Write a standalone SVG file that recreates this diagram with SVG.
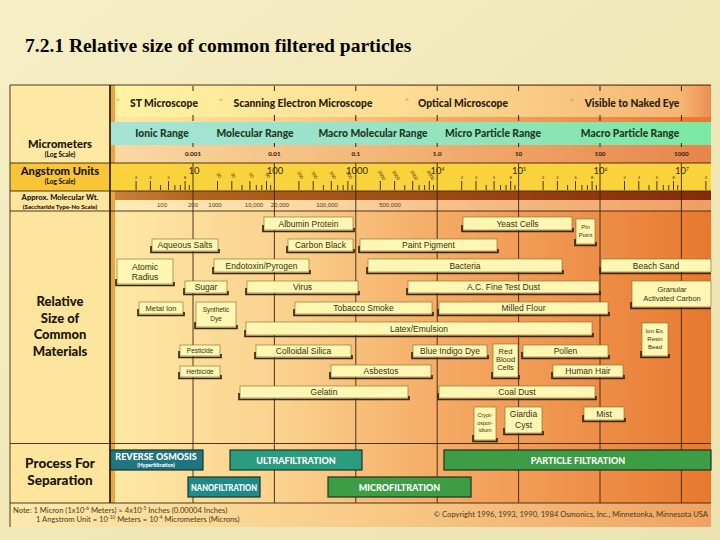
<svg xmlns="http://www.w3.org/2000/svg" width="720" height="540" viewBox="0 0 720 540">
<defs>
<linearGradient id="page" x1="0" y1="0" x2="1" y2="1"><stop offset="0" stop-color="#f6efc6"/><stop offset="0.5" stop-color="#f1e8b8"/><stop offset="1" stop-color="#ece2b2"/></linearGradient>
<linearGradient id="chart" gradientUnits="userSpaceOnUse" x1="110" y1="0" x2="711" y2="0"><stop offset="0" stop-color="#fde9a5"/><stop offset="0.3" stop-color="#fad08c"/><stop offset="0.57" stop-color="#f4a862"/><stop offset="0.8" stop-color="#ee8f48"/><stop offset="1" stop-color="#e8782e"/></linearGradient>
<linearGradient id="micro" gradientUnits="userSpaceOnUse" x1="115" y1="0" x2="711" y2="0"><stop offset="0" stop-color="#fff3a2"/><stop offset="0.5" stop-color="#fcdc92"/><stop offset="0.95" stop-color="#f5b674"/><stop offset="1" stop-color="#ec8e52"/></linearGradient>
<linearGradient id="teal" gradientUnits="userSpaceOnUse" x1="110" y1="0" x2="711" y2="0"><stop offset="0" stop-color="#a6e4d6"/><stop offset="0.45" stop-color="#98e2c6"/><stop offset="1" stop-color="#7ce8a2"/></linearGradient>
<linearGradient id="nums" gradientUnits="userSpaceOnUse" x1="115" y1="0" x2="711" y2="0"><stop offset="0" stop-color="#f9d9a2"/><stop offset="0.5" stop-color="#f2b272"/><stop offset="1" stop-color="#e8844a"/></linearGradient>
<linearGradient id="mol" gradientUnits="userSpaceOnUse" x1="115" y1="0" x2="711" y2="0"><stop offset="0" stop-color="#c8803a"/><stop offset="0.15" stop-color="#b0621e"/><stop offset="0.6" stop-color="#984614"/><stop offset="1" stop-color="#862a0c"/></linearGradient>
<linearGradient id="note" gradientUnits="userSpaceOnUse" x1="10" y1="0" x2="711" y2="0"><stop offset="0" stop-color="#fde9aa"/><stop offset="0.5" stop-color="#f8cc88"/><stop offset="1" stop-color="#f0a262"/></linearGradient>
<style>
.lbl{font-family:Lato,"Open Sans","DejaVu Sans",sans-serif;font-weight:900;fill:#1c1609;text-anchor:middle}
.mic{font-family:Lato,"Open Sans",sans-serif;font-weight:900;font-size:10.3px;fill:#2a200e;text-anchor:middle}
.rng{font-family:Lato,"Open Sans",sans-serif;font-weight:900;font-size:10.3px;fill:#1d3a22;text-anchor:middle}
.caret{font-family:"Liberation Sans",sans-serif;font-size:7px;fill:#c07a3a;text-anchor:middle}
.um{font-family:Lato,sans-serif;font-weight:900;font-size:6.3px;fill:#3a2a16;text-anchor:middle}
.ang{font-family:Lato,sans-serif;font-size:9.5px;fill:#3a2a12;text-anchor:middle}
.tk{font-family:Lato,sans-serif;font-size:4.5px;fill:#4a3414;text-anchor:middle}
.mw{font-family:"Liberation Sans",sans-serif;font-size:6px;fill:#5a3818;text-anchor:middle}
.mat rect{fill:#fdf7b3;stroke:#7a6a30;stroke-width:.6}
.mat path{fill:none;stroke:#3a2810;stroke-width:1.7}
.mat text{font-family:"Liberation Sans",Arial,sans-serif;font-size:8.5px;fill:#3a3012;text-anchor:middle}
.s75 text{font-size:7.5px}
.s65 text{font-size:6.5px}
.s6 text{font-size:6px}
.s55 text{font-size:5.5px}
.proc rect{stroke:#1d3320;stroke-width:1.2}
.proc text{font-family:Lato,"Open Sans",sans-serif;font-weight:900;font-size:9px;fill:#ffffff;text-anchor:middle}
.grid line{stroke:#3a2410;stroke-width:.9}
.note{font-family:Lato,"Open Sans",sans-serif;font-size:7.6px;fill:#4a3a20}
</style>
</defs>

<rect x="0" y="0" width="720" height="540" fill="url(#page)"/>
<text x="25" y="52" font-family="'Liberation Serif','Times New Roman',serif" font-weight="700" font-size="19.5" fill="#000">7.2.1 Relative size of common filtered particles</text>

<!-- backgrounds -->
<g id="backgrounds">
<rect x="10" y="85" width="100" height="418" fill="#fde59e"/>
<rect x="10" y="85" width="100" height="78" fill="#fde9a4"/>
<rect x="10" y="163" width="100" height="28" fill="#f7c536"/>
<rect x="110" y="85" width="601" height="418" fill="url(#chart)"/>
<rect x="110" y="85" width="5" height="418" fill="#e9a444"/>
<rect x="115" y="86" width="596" height="31" fill="url(#micro)"/>
<rect x="110" y="122" width="601" height="23" fill="url(#teal)"/>
<rect x="115" y="145" width="596" height="18" fill="url(#nums)"/>
<rect x="110" y="163" width="601" height="28" fill="#f9d23c"/>
<rect x="115" y="191" width="596" height="9" fill="url(#mol)"/>
<rect x="115" y="200" width="596" height="11" fill="#fff6e0" opacity="0.3"/>
<rect x="10" y="503" width="701" height="24" fill="url(#note)"/>
</g>

<!-- grid / scale -->
<g id="grid" class="grid">
<line x1="10" y1="85" x2="711" y2="85"/>
<line x1="10" y1="163" x2="711" y2="163"/>
<line x1="10" y1="191" x2="711" y2="191"/>
<line x1="10" y1="211" x2="711" y2="211"/>
<line x1="10" y1="443.5" x2="711" y2="443.5"/>
<line x1="10" y1="503" x2="711" y2="503"/>
<line x1="10" y1="85" x2="10" y2="527"/>
<line x1="110" y1="85" x2="110" y2="503" style="stroke-width:1.8"/>
<line x1="193" y1="163" x2="193" y2="503"/>
<line x1="274.4" y1="163" x2="274.4" y2="503"/>
<line x1="355.8" y1="163" x2="355.8" y2="503"/>
<line x1="437.2" y1="163" x2="437.2" y2="503"/>
<line x1="518.6" y1="163" x2="518.6" y2="503"/>
<line x1="600" y1="163" x2="600" y2="503"/>
<line x1="681.4" y1="163" x2="681.4" y2="503"/>
<path d="M193 86V91M274.4 86V91M355.8 86V91M437.2 86V91M518.6 86V91M600 86V91M681.4 86V91M193 115V121M274.4 115V121M355.8 115V121M437.2 115V121M518.6 115V121M600 115V121M681.4 115V121M193 143V147M274.4 143V147M355.8 143V147M437.2 143V147M518.6 143V147M600 143V147M681.4 143V147" stroke="#3a2410" stroke-width="1" fill="none"/>
<path d="M136.1 181V190M150.4 181V190M168.5 181V190M185.1 181V190M217.5 181V190M231.8 181V190M249.9 181V190M266.5 181V190M298.9 181V190M313.2 181V190M331.3 181V190M347.9 181V190M380.3 181V190M394.6 181V190M412.7 181V190M429.3 181V190M461.7 181V190M476 181V190M494.1 181V190M510.7 181V190M543.1 181V190M557.4 181V190M575.5 181V190M592.1 181V190M624.5 181V190M638.8 181V190M656.9 181V190M673.5 181V190M705.9 181V190" stroke="#3a2410" stroke-width="0.9" fill="none"/>
<path d="M160.6 185V190M174.9 185V190M180.4 185V190M189.3 185V190M242 185V190M256.3 185V190M261.8 185V190M270.7 185V190M323.4 185V190M337.7 185V190M343.2 185V190M352.1 185V190M404.8 185V190M419.1 185V190M424.6 185V190M433.5 185V190M486.2 185V190M500.5 185V190M506 185V190M514.9 185V190M567.6 185V190M581.9 185V190M587.4 185V190M596.3 185V190M649 185V190M663.3 185V190M668.8 185V190M677.7 185V190" stroke="#3a2410" stroke-width="0.9" fill="none"/>
</g>

<!-- left labels -->
<g id="labels">
<text class="lbl" x="60" y="148" font-size="11.2">Micrometers</text>
<text class="lbl" x="60" y="157" font-size="6.5">(Log Scale)</text>
<text class="lbl" x="60" y="175" font-size="11.2">Angstrom Units</text>
<text class="lbl" x="60" y="184" font-size="6.5">(Log Scale)</text>
<text class="lbl" x="60" y="200" font-size="7.6">Approx. Molecular Wt.</text>
<text class="lbl" x="60" y="208.5" font-size="6.2">(Saccharide Type-No Scale)</text>
<text class="lbl" x="60" y="306" font-size="13">Relative</text>
<text class="lbl" x="60" y="322.5" font-size="13">Size of</text>
<text class="lbl" x="60" y="339" font-size="13">Common</text>
<text class="lbl" x="60" y="355.5" font-size="13">Materials</text>
<text class="lbl" x="60" y="468" font-size="13.5">Process For</text>
<text class="lbl" x="60" y="485" font-size="13.5">Separation</text>
</g>

<!-- microscope row -->
<g id="microscopes">
<text class="caret" x="118" y="103">^</text>
<text class="caret" x="221" y="103">^</text>
<text class="caret" x="407" y="103">^</text>
<text class="caret" x="572" y="103">^</text>
<text class="mic" x="164" y="107">ST Microscope</text>
<text class="mic" x="303" y="107">Scanning Electron Microscope</text>
<text class="mic" x="463" y="107">Optical Microscope</text>
<text class="mic" x="632" y="107">Visible to Naked Eye</text>
</g>

<g id="ranges">
<text class="rng" x="162" y="136.5">Ionic Range</text>
<text class="rng" x="255" y="136.5">Molecular Range</text>
<text class="rng" x="373" y="136.5">Macro Molecular Range</text>
<text class="rng" x="493" y="136.5">Micro Particle Range</text>
<text class="rng" x="630" y="136.5">Macro Particle Range</text>
</g>

<g id="micrometers">
<text class="um" x="193" y="156">0.001</text>
<text class="um" x="274.4" y="156">0.01</text>
<text class="um" x="355.8" y="156">0.1</text>
<text class="um" x="437.2" y="156">1.0</text>
<text class="um" x="518.6" y="156">10</text>
<text class="um" x="600" y="156">100</text>
<text class="um" x="681.4" y="156">1000</text>
</g>

<g id="angstrom">
<text class="ang" x="194" y="173.5">10</text>
<text class="ang" x="275" y="173.5">100</text>
<text class="ang" x="357" y="173.5">1000</text>
<text class="ang" x="437.5" y="173.5">10<tspan font-size="5" dy="-3">4</tspan></text>
<text class="ang" x="519" y="173.5">10<tspan font-size="5" dy="-3">5</tspan></text>
<text class="ang" x="600.5" y="173.5">10<tspan font-size="5" dy="-3">6</tspan></text>
<text class="ang" x="682" y="173.5">10<tspan font-size="5" dy="-3">7</tspan></text>
<text class="tk" x="136.1" y="179">2</text><text class="tk" x="150.4" y="179">3</text><text class="tk" x="168.5" y="179">5</text><text class="tk" x="185.1" y="179">8</text>
<text class="tk" transform="translate(217.5 176) rotate(60)">20</text><text class="tk" transform="translate(231.8 176) rotate(60)">30</text><text class="tk" transform="translate(249.9 176) rotate(60)">50</text><text class="tk" transform="translate(266.5 176) rotate(60)">80</text>
<text class="tk" transform="translate(298.9 176) rotate(60)">200</text><text class="tk" transform="translate(313.2 176) rotate(60)">300</text><text class="tk" transform="translate(331.3 176) rotate(60)">500</text><text class="tk" transform="translate(347.9 176) rotate(60)">800</text>
<text class="tk" transform="translate(380.3 176) rotate(60)">2000</text><text class="tk" transform="translate(394.6 176) rotate(60)">3000</text><text class="tk" transform="translate(412.7 176) rotate(60)">5000</text><text class="tk" transform="translate(429.3 176) rotate(60)">8000</text>
<text class="tk" x="461.7" y="179">2</text><text class="tk" x="476" y="179">3</text><text class="tk" x="494.1" y="179">5</text><text class="tk" x="510.7" y="179">8</text>
<text class="tk" x="543.1" y="179">2</text><text class="tk" x="557.4" y="179">3</text><text class="tk" x="575.5" y="179">5</text><text class="tk" x="592.1" y="179">8</text>
<text class="tk" x="624.5" y="179">2</text><text class="tk" x="638.8" y="179">3</text><text class="tk" x="656.9" y="179">5</text><text class="tk" x="673.5" y="179">8</text>
<text class="tk" x="705.9" y="179">2</text>
</g>

<g id="molwt">
<text class="mw" x="162" y="207">100</text>
<text class="mw" x="193" y="207">200</text>
<text class="mw" x="215" y="207">1000</text>
<text class="mw" x="254" y="207">10,000</text>
<text class="mw" x="280" y="207">20,000</text>
<text class="mw" x="327" y="207">100,000</text>
<text class="mw" x="390" y="207">500,000</text>
</g>

<!-- materials -->
<g id="albumin" class="mat"><rect x="264" y="217" width="89" height="13"/><path d="M263 225V231.5H354V228"/><text x="308.5" y="226.5">Albumin Protein</text></g>
<g id="yeast" class="mat"><rect x="463" y="217" width="109" height="13"/><path d="M462 225V231.5H573V228"/><text x="517.5" y="226.5">Yeast Cells</text></g>
<g id="pinpoint" class="mat s6"><rect x="576" y="219" width="19" height="25"/><path d="M575 239V245.5H596V242"/><text x="585.5" y="229">Pin</text><text x="585.5" y="236.5">Point</text></g>
<g id="aqueous" class="mat"><rect x="152" y="239" width="66" height="12"/><path d="M151 246V252.5H219V249"/><text x="185" y="248">Aqueous Salts</text></g>
<g id="carbonblack" class="mat"><rect x="288" y="239" width="65" height="12"/><path d="M287 246V252.5H354V249"/><text x="320.5" y="248">Carbon Black</text></g>
<g id="paint" class="mat"><rect x="360" y="239" width="137" height="12"/><path d="M359 246V252.5H498V249"/><text x="428.5" y="248">Paint Pigment</text></g>
<g id="atomic" class="mat"><rect x="117" y="259" width="56" height="25"/><path d="M116 279V285.5H174V282"/><text x="145" y="270">Atomic</text><text x="145" y="280">Radius</text></g>
<g id="endotoxin" class="mat"><rect x="214" y="259" width="95" height="13"/><path d="M213 267V273.5H310V270"/><text x="261.5" y="268.5">Endotoxin/Pyrogen</text></g>
<g id="bacteria" class="mat"><rect x="368" y="259" width="194" height="13"/><path d="M367 267V273.5H563V270"/><text x="465" y="268.5">Bacteria</text></g>
<g id="beachsand" class="mat"><rect x="601" y="259" width="110" height="13"/><path d="M600 267V273.5H711"/><text x="656" y="268.5">Beach Sand</text></g>
<g id="sugar" class="mat"><rect x="185" y="281" width="42" height="12"/><path d="M184 288V294.5H228V291"/><text x="206" y="290">Sugar</text></g>
<g id="virus" class="mat"><rect x="247" y="281" width="111" height="12"/><path d="M246 288V294.5H359V291"/><text x="302.5" y="290">Virus</text></g>
<g id="acdust" class="mat"><rect x="408" y="281" width="191" height="12"/><path d="M407 288V294.5H600V291"/><text x="503.5" y="290">A.C. Fine Test Dust</text></g>
<g id="gac" class="mat s75"><rect x="632" y="281" width="79" height="26"/><path d="M631 302V308.5H711"/><text x="672" y="291.5">Granular</text><text x="672" y="300.5">Activated Carbon</text></g>
<g id="metalion" class="mat s75"><rect x="139" y="302" width="44" height="12"/><path d="M138 309V315.5H184V312"/><text x="161" y="311">Metal Ion</text></g>
<g id="synthdye" class="mat s65"><rect x="196" y="302" width="40" height="25"/><path d="M195 322V328.5H237V325"/><text x="216" y="311.5">Synthetic</text><text x="216" y="320.5">Dye</text></g>
<g id="tobacco" class="mat"><rect x="295" y="302" width="137" height="12"/><path d="M294 309V315.5H433V312"/><text x="363.5" y="311">Tobacco Smoke</text></g>
<g id="milledflour" class="mat"><rect x="439" y="302" width="169" height="12"/><path d="M438 309V315.5H609V312"/><text x="523.5" y="311">Milled Flour</text></g>
<g id="latex" class="mat"><rect x="246" y="322" width="346" height="13"/><path d="M245 330V336.5H593V333"/><text x="419" y="331.5">Latex/Emulsion</text></g>
<g id="ionex" class="mat s6"><rect x="642" y="323" width="26" height="33"/><path d="M641 351V357.5H669V354"/><text x="655" y="333">Ion Ex.</text><text x="655" y="341">Resin</text><text x="655" y="348.5">Bead</text></g>
<g id="pesticide" class="mat s65"><rect x="180" y="345" width="40" height="11"/><path d="M179 351V357.5H221V354"/><text x="200" y="352.8">Pesticide</text></g>
<g id="colloidal" class="mat"><rect x="256" y="345" width="95" height="12"/><path d="M255 352V358.5H352V355"/><text x="303.5" y="354">Colloidal Silica</text></g>
<g id="bluedye" class="mat"><rect x="413" y="345" width="74" height="12"/><path d="M412 352V358.5H488V355"/><text x="450" y="354">Blue Indigo Dye</text></g>
<g id="rbc" class="mat s75"><rect x="493" y="344" width="25" height="33"/><path d="M492 372V378.5H519V375"/><text x="505.5" y="354">Red</text><text x="505.5" y="362">Blood</text><text x="505.5" y="370">Cells</text></g>
<g id="pollen" class="mat"><rect x="523" y="345" width="85" height="12"/><path d="M522 352V358.5H609V355"/><text x="565.5" y="354">Pollen</text></g>
<g id="herbicide" class="mat s65"><rect x="180" y="366" width="40" height="11"/><path d="M179 372V378.5H221V375"/><text x="200" y="374">Herbicide</text></g>
<g id="asbestos" class="mat"><rect x="331" y="365" width="100" height="12"/><path d="M330 372V378.5H432V375"/><text x="381" y="374">Asbestos</text></g>
<g id="humanhair" class="mat"><rect x="553" y="365" width="70" height="12"/><path d="M552 372V378.5H624V375"/><text x="588" y="374">Human Hair</text></g>
<g id="gelatin" class="mat"><rect x="240" y="386" width="168" height="12"/><path d="M239 393V399.5H409V396"/><text x="324" y="395">Gelatin</text></g>
<g id="coaldust" class="mat"><rect x="439" y="386" width="156" height="12"/><path d="M438 393V399.5H596V396"/><text x="517" y="395">Coal Dust</text></g>
<g id="crypto" class="mat s55"><rect x="474" y="407" width="22" height="33"/><path d="M473 435V441.5H497V438"/><text x="485" y="417">Crypt-</text><text x="485" y="424.5">ospor-</text><text x="485" y="432">idium</text></g>
<g id="giardia" class="mat"><rect x="505" y="407" width="37" height="26"/><path d="M504 428V434.5H543V431"/><text x="523.5" y="417">Giardia</text><text x="523.5" y="427.5">Cyst</text></g>
<g id="mist" class="mat"><rect x="584" y="407" width="40" height="13"/><path d="M583 415V421.5H625V418"/><text x="604" y="416.5">Mist</text></g>

<!-- processes -->
<g id="reverseosmosis" class="proc"><rect x="110.5" y="450" width="92.5" height="20" fill="#1f7580"/><text x="156" y="459.5" font-size="8.5">REVERSE OSMOSIS</text><text x="156" y="467" style="font-size:5.2px">(Hyperfiltration)</text></g>
<g id="ultrafiltration" class="proc"><rect x="230" y="450" width="132" height="20" fill="#2a9d80"/><text x="296" y="463.5">ULTRAFILTRATION</text></g>
<g id="particlefiltration" class="proc"><rect x="444" y="450" width="267" height="20" fill="#3d9d45"/><text x="578" y="463.5">PARTICLE FILTRATION</text></g>
<g id="nanofiltration" class="proc"><rect x="188" y="477" width="72" height="20" fill="#1f8a88"/><text x="224" y="490.5" textLength="66" lengthAdjust="spacingAndGlyphs">NANOFILTRATION</text></g>
<g id="microfiltration" class="proc"><rect x="328" y="477" width="143" height="20" fill="#3d9d45"/><text x="399.5" y="490.5">MICROFILTRATION</text></g>

<!-- notes -->
<g id="notes">
<text class="note" x="13" y="513">Note: 1 Micron (1x10<tspan font-size="4.8" dy="-2.6">-6</tspan><tspan dy="2.6"> Meters) ≈ 4x10</tspan><tspan font-size="4.8" dy="-2.6">-5</tspan><tspan dy="2.6"> Inches (0.00004 Inches)</tspan></text>
<text class="note" x="36" y="521.5">1 Angstrom Unit = 10<tspan font-size="4.8" dy="-2.6">-10</tspan><tspan dy="2.6"> Meters = 10</tspan><tspan font-size="4.8" dy="-2.6">-4</tspan><tspan dy="2.6"> Micrometers (Microns)</tspan></text>
<text class="note" x="708" y="516.5" text-anchor="end">© Copyright 1996, 1993, 1990, 1984 Osmonics, Inc., Minnetonka, Minnesota USA</text>
</g>
</svg>
